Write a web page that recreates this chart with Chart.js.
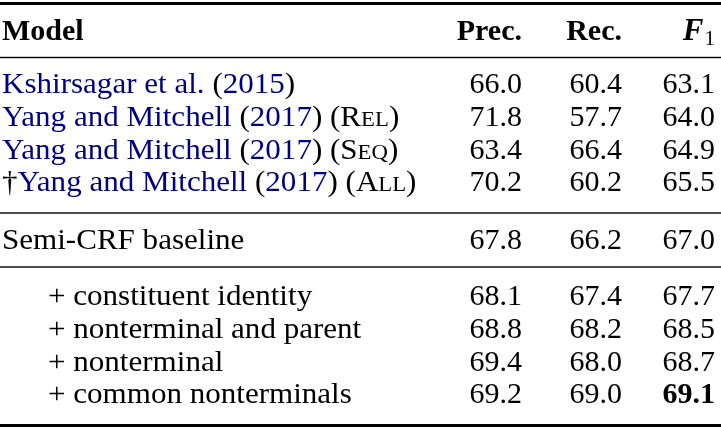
<!DOCTYPE html>
<html><head><meta charset="utf-8">
<script src="https://cdn.jsdelivr.net/npm/chart.js@4.4.1/dist/chart.umd.min.js"></script>
<style>html,body{margin:0;padding:0;background:#fff}#wrap{width:721px;height:429px;position:relative}</style>
</head><body><div id="wrap"><canvas id="c"></canvas></div>
<script>
// ---- data ----
const columns = ["Model", "Prec.", "Rec.", "F1"];
const models = [
  "Kshirsagar et al. (2015)",
  "Yang and Mitchell (2017) (Rel)",
  "Yang and Mitchell (2017) (Seq)",
  "†Yang and Mitchell (2017) (All)",
  "Semi-CRF baseline",
  "+ constituent identity",
  "+ nonterminal and parent",
  "+ nonterminal",
  "+ common nonterminals"
];
const prec = [66.0, 71.8, 63.4, 70.2, 67.8, 68.1, 68.8, 69.4, 69.2];
const rec  = [60.4, 57.7, 66.4, 60.2, 66.2, 67.4, 68.2, 68.0, 69.0];
const f1   = [63.1, 64.0, 64.9, 65.5, 67.0, 67.7, 68.5, 68.7, 69.1];
const groups = [0, 0, 0, 0, 1, 2, 2, 2, 2];

// ---- layout ----
const W = 721, H = 429;
const FONT = '"Liberation Serif", "Times New Roman", serif';
const SIZE = 30, SC_SIZE = 22;
const MODEL_STRETCH = 1.035;
const BLUE = '#000080';
const modelX = 2, indentX = 48;
const colRight = [0, 522, 622, 715];
const headerBase = 39.5;
const groupStart = [93, 249, 305];
const rowStep = 32.8;
const rules = [{y: 3.5, w: 3}, {y: 57.5, w: 1.4}, {y: 213, w: 1.4}, {y: 267, w: 1.4}, {y: 425.5, w: 3}];

const rowY = models.map((m, i) => {
  const g = groups[i];
  const first = groups.indexOf(g);
  return groupStart[g] + (i - first) * rowStep;
});
const bestF1 = Math.max(...f1);

function cellData(vals, x) {
  return vals.map((v, i) => ({x: x, y: rowY[i], v: v, i: i}));
}

function drawSegs(ctx, segs, x, y) {
  ctx.save();
  ctx.translate(x, y);
  ctx.scale(MODEL_STRETCH, 1);
  let cx = 0;
  for (const s of segs) {
    ctx.font = (s.bold ? 'bold ' : '') + s.size + 'px ' + FONT;
    ctx.fillStyle = s.color;
    ctx.fillText(s.t, cx, 0);
    cx += ctx.measureText(s.t).width;
  }
  ctx.restore();
}
function modelSegs(text) {
  const m = text.match(/^(†?)(.+?) \((\d{4})\)(?: \((\w+)\))?$/);
  const K = '#000';
  if (!m) return [{t: text, color: K, size: SIZE}];
  const segs = [];
  if (m[1]) segs.push({t: m[1], color: K, size: SIZE});
  segs.push({t: m[2] + ' ', color: BLUE, size: SIZE});
  segs.push({t: '(', color: K, size: SIZE});
  segs.push({t: m[3], color: BLUE, size: SIZE});
  segs.push({t: ')', color: K, size: SIZE});
  if (m[4]) {
    segs.push({t: ' (', color: K, size: SIZE});
    segs.push({t: m[4][0], color: K, size: SIZE});
    segs.push({t: m[4].slice(1).toUpperCase(), color: K, size: SC_SIZE});
    segs.push({t: ')', color: K, size: SIZE});
  }
  return segs;
}

const tablePlugin = {
  id: 'table',
  afterDatasetsDraw(chart) {
    const ctx = chart.ctx;
    const xs = chart.scales.x, ys = chart.scales.y;
    ctx.save();
    ctx.textBaseline = 'alphabetic';
    // rules
    ctx.fillStyle = '#000';
    for (const r of rules) {
      const py = ys.getPixelForValue(r.y);
      ctx.fillRect(xs.getPixelForValue(0), py - r.w / 2, xs.getPixelForValue(W) - xs.getPixelForValue(0), r.w);
    }
    // header
    const hy = ys.getPixelForValue(headerBase);
    ctx.textAlign = 'left';
    ctx.font = 'bold ' + SIZE + 'px ' + FONT;
    ctx.fillText(columns[0], xs.getPixelForValue(modelX), hy);
    ctx.textAlign = 'right';
    ctx.fillText(columns[1], xs.getPixelForValue(colRight[1]), hy);
    ctx.fillText(columns[2], xs.getPixelForValue(colRight[2]), hy);
    // F_1
    const fx = xs.getPixelForValue(colRight[3]);
    ctx.font = '21px ' + FONT;
    const subW = ctx.measureText(columns[3].slice(1)).width;
    ctx.fillText(columns[3].slice(1), fx, hy + 5);
    ctx.font = 'italic bold 31px ' + FONT;
    ctx.fillText(columns[3][0], fx - subW - 1, hy);
    // model column
    ctx.textAlign = 'left';
    const mMeta = chart.getDatasetMeta(0);
    mMeta.data.forEach((el, i) => {
      const t = models[i];
      const x = t.startsWith('+') ? xs.getPixelForValue(indentX) : el.x;
      drawSegs(ctx, modelSegs(t), x, el.y);
    });
    // numeric columns
    ctx.textAlign = 'right';
    for (let d = 1; d <= 3; d++) {
      const meta = chart.getDatasetMeta(d);
      const raw = chart.data.datasets[d].data;
      meta.data.forEach((el, i) => {
        const v = raw[i].v;
        const bold = d === 3 && v === bestF1;
        ctx.font = (bold ? 'bold ' : '') + SIZE + 'px ' + FONT;
        ctx.fillStyle = '#000';
        ctx.fillText(v.toFixed(1), el.x, el.y);
      });
    }
    ctx.restore();
  }
};

new Chart(document.getElementById('c'), {
  type: 'scatter',
  data: {
    datasets: [
      {label: columns[0], data: cellData(models, modelX)},
      {label: columns[1], data: cellData(prec, colRight[1])},
      {label: columns[2], data: cellData(rec, colRight[2])},
      {label: columns[3], data: cellData(f1, colRight[3])}
    ]
  },
  options: {
    responsive: true,
    maintainAspectRatio: false,
    animation: false,
    events: [],
    layout: {padding: 0},
    elements: {point: {radius: 0, hoverRadius: 0}},
    plugins: {legend: {display: false}, tooltip: {enabled: false}},
    scales: {
      x: {type: 'linear', min: 0, max: W, display: false},
      y: {type: 'linear', min: 0, max: H, reverse: true, display: false}
    }
  },
  plugins: [tablePlugin]
});
</script>
</body></html>
